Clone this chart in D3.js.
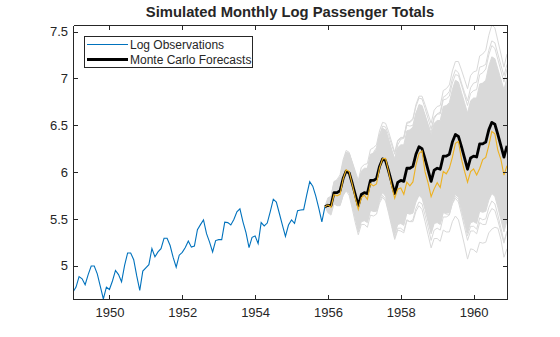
<!DOCTYPE html>
<html>
<head>
<meta charset="utf-8">
<title>Simulated Monthly Log Passenger Totals</title>
<script src="https://d3js.org/d3.v7.min.js"></script>
<style>
body { margin: 0; background: white; }
text { font-family: "Liberation Sans", Arial, sans-serif; fill: #262626; }
.axis path, .axis line { stroke: #262626; shape-rendering: crispEdges; }
.axis text { font-size: 13px; }
</style>
</head>
<body>
<svg id="chart" width="560" height="337"></svg>
<script>
// log passenger totals, Jan 1949 - Dec 1955 (observed)
var obsStart = 1949;
var logObs = [
  4.718, 4.771, 4.883, 4.860, 4.796, 4.905, 4.997, 4.997, 4.913, 4.779, 4.644, 4.771,
  4.745, 4.836, 4.949, 4.905, 4.828, 5.004, 5.136, 5.136, 5.063, 4.890, 4.736, 4.942,
  4.977, 5.011, 5.182, 5.094, 5.147, 5.182, 5.293, 5.293, 5.215, 5.088, 4.984, 5.112,
  5.142, 5.193, 5.263, 5.198, 5.209, 5.384, 5.438, 5.489, 5.342, 5.252, 5.147, 5.268,
  5.278, 5.278, 5.464, 5.460, 5.434, 5.493, 5.576, 5.606, 5.468, 5.352, 5.193, 5.303,
  5.318, 5.236, 5.460, 5.425, 5.455, 5.576, 5.710, 5.680, 5.557, 5.434, 5.313, 5.434,
  5.489, 5.451, 5.587, 5.595, 5.598, 5.753, 5.897, 5.849, 5.743, 5.613, 5.468, 5.628
];

// forecast horizon, Dec 1955 - Dec 1960 (first point = last observation)
var fcStart = 1955 + 11 / 12;

// Monte Carlo forecast mean (black)
var mcMean = [5.63,
  5.645, 5.64, 5.78, 5.78, 5.80, 5.93, 6.01, 5.99, 5.88, 5.76, 5.64, 5.76,
  5.78, 5.77, 5.91, 5.91, 5.93, 6.06, 6.14, 6.12, 6.01, 5.89, 5.77, 5.89,
  5.91, 5.90, 6.04, 6.04, 6.06, 6.19, 6.27, 6.25, 6.14, 6.02, 5.90, 6.02,
  6.04, 6.03, 6.17, 6.17, 6.19, 6.32, 6.40, 6.38, 6.27, 6.15, 6.03, 6.15,
  6.17, 6.16, 6.30, 6.30, 6.32, 6.45, 6.53, 6.51, 6.40, 6.28, 6.16, 6.28
];

// held-out log observations (orange)
var logHoldout = [5.628,
  5.649, 5.624, 5.759, 5.746, 5.762, 5.924, 6.023, 6.004, 5.872, 5.724, 5.602, 5.724,
  5.753, 5.707, 5.875, 5.852, 5.872, 6.045, 6.142, 6.146, 6.001, 5.849, 5.720, 5.817,
  5.829, 5.762, 5.892, 5.852, 5.894, 6.075, 6.196, 6.225, 6.001, 5.883, 5.737, 5.820,
  5.886, 5.835, 6.006, 5.981, 6.040, 6.157, 6.306, 6.326, 6.138, 6.009, 5.892, 6.004,
  6.033, 5.969, 6.038, 6.133, 6.157, 6.282, 6.433, 6.407, 6.230, 6.133, 5.966, 6.068
];

// dense part of the simulated paths (upper / lower edge)
var simUpper = [5.63,
  5.725, 5.74, 5.90, 5.91, 5.95, 6.10, 6.21, 6.20, 6.10, 5.99, 5.88, 6.01,
  6.04, 6.04, 6.19, 6.20, 6.23, 6.37, 6.46, 6.45, 6.35, 6.24, 6.13, 6.26,
  6.29, 6.29, 6.44, 6.45, 6.48, 6.62, 6.72, 6.71, 6.61, 6.50, 6.39, 6.52,
  6.55, 6.55, 6.70, 6.71, 6.74, 6.88, 6.98, 6.96, 6.85, 6.74, 6.63, 6.76,
  6.79, 6.79, 6.94, 6.95, 6.98, 7.13, 7.23, 7.21, 7.10, 6.99, 6.88, 7.01
];
var simLower = [5.63,
  5.565, 5.54, 5.66, 5.64, 5.64, 5.75, 5.81, 5.77, 5.64, 5.50, 5.36, 5.47,
  5.48, 5.46, 5.59, 5.58, 5.59, 5.71, 5.78, 5.74, 5.61, 5.47, 5.33, 5.44,
  5.45, 5.43, 5.56, 5.55, 5.56, 5.68, 5.75, 5.72, 5.60, 5.47, 5.34, 5.45,
  5.46, 5.44, 5.57, 5.56, 5.57, 5.69, 5.76, 5.73, 5.61, 5.48, 5.35, 5.46,
  5.47, 5.45, 5.58, 5.57, 5.58, 5.70, 5.77, 5.74, 5.62, 5.49, 5.36, 5.48
];

// a few stray simulated paths outside the dense band
var simHigh1 = [5.63,
  5.665, 5.68, 5.83, 5.85, 5.89, 6.04, 6.14, 6.13, 6.04, 5.94, 5.84, 5.98,
  6.01, 6.02, 6.18, 6.20, 6.24, 6.39, 6.49, 6.48, 6.39, 6.29, 6.19, 6.33,
  6.36, 6.37, 6.53, 6.54, 6.57, 6.72, 6.81, 6.81, 6.72, 6.62, 6.52, 6.66,
  6.70, 6.71, 6.87, 6.89, 6.93, 7.08, 7.18, 7.18, 7.09, 6.99, 6.89, 7.03,
  7.07, 7.08, 7.24, 7.26, 7.30, 7.46, 7.57, 7.54, 7.40, 7.26, 7.12, 7.26
];
var simHigh2 = [5.63,
  5.685, 5.71, 5.87, 5.90, 5.94, 6.10, 6.20, 6.20, 6.11, 6.01, 5.91, 6.05,
  6.08, 6.09, 6.24, 6.26, 6.29, 6.44, 6.53, 6.52, 6.43, 6.32, 6.21, 6.34,
  6.37, 6.37, 6.52, 6.53, 6.56, 6.70, 6.79, 6.78, 6.68, 6.57, 6.46, 6.59,
  6.62, 6.62, 6.77, 6.78, 6.81, 6.95, 7.04, 7.03, 6.93, 6.82, 6.71, 6.84,
  6.87, 6.88, 7.04, 7.06, 7.10, 7.25, 7.35, 7.32, 7.20, 7.08, 6.96, 7.10
];
var simHigh3 = [5.63,
  5.70, 5.73, 5.89, 5.92, 5.97, 6.13, 6.23, 6.21, 6.09, 5.97, 5.86, 5.99,
  6.00, 5.99, 6.16, 6.21, 6.26, 6.40, 6.47, 6.44, 6.33, 6.23, 6.14, 6.29,
  6.35, 6.36, 6.50, 6.49, 6.50, 6.63, 6.70, 6.69, 6.60, 6.51, 6.42, 6.57,
  6.62, 6.64, 6.80, 6.82, 6.86, 7.00, 7.09, 7.06, 6.95, 6.85, 6.76, 6.90,
  6.95, 6.96, 7.12, 7.13, 7.15, 7.30, 7.40, 7.38, 7.26, 7.14, 7.03, 7.15
];
var simLow1 = [5.63,
  5.615, 5.59, 5.71, 5.69, 5.69, 5.80, 5.86, 5.82, 5.69, 5.55, 5.41, 5.51,
  5.51, 5.48, 5.60, 5.58, 5.58, 5.69, 5.75, 5.71, 5.58, 5.44, 5.30, 5.40,
  5.40, 5.37, 5.49, 5.47, 5.47, 5.58, 5.64, 5.60, 5.47, 5.33, 5.19, 5.29,
  5.29, 5.26, 5.38, 5.36, 5.36, 5.47, 5.53, 5.49, 5.36, 5.22, 5.07, 5.18,
  5.17, 5.14, 5.25, 5.24, 5.25, 5.35, 5.39, 5.41, 5.40, 5.28, 5.09, 5.18
];
var simLow2 = [5.63,
  5.625, 5.60, 5.73, 5.71, 5.72, 5.83, 5.89, 5.86, 5.73, 5.59, 5.45, 5.56,
  5.56, 5.53, 5.65, 5.63, 5.63, 5.74, 5.80, 5.76, 5.63, 5.49, 5.35, 5.47,
  5.49, 5.47, 5.60, 5.59, 5.60, 5.72, 5.79, 5.76, 5.64, 5.50, 5.36, 5.47,
  5.48, 5.45, 5.57, 5.55, 5.55, 5.66, 5.72, 5.68, 5.55, 5.41, 5.27, 5.37,
  5.37, 5.34, 5.46, 5.44, 5.44, 5.55, 5.61, 5.59, 5.48, 5.36, 5.24, 5.36
];
var simLow3 = [5.63,
  5.59, 5.57, 5.69, 5.66, 5.65, 5.75, 5.80, 5.75, 5.61, 5.46, 5.33, 5.44,
  5.44, 5.41, 5.54, 5.53, 5.55, 5.67, 5.73, 5.69, 5.56, 5.42, 5.28, 5.38,
  5.37, 5.35, 5.48, 5.47, 5.49, 5.61, 5.68, 5.66, 5.54, 5.41, 5.27, 5.38,
  5.40, 5.38, 5.52, 5.52, 5.54, 5.67, 5.74, 5.71, 5.59, 5.46, 5.32, 5.42,
  5.42, 5.39, 5.51, 5.49, 5.50, 5.62, 5.69, 5.66, 5.54, 5.40, 5.26, 5.37
];

var xTicks = [1950, 1952, 1954, 1956, 1958, 1960];
var yTicks = [5, 5.5, 6, 6.5, 7, 7.5];

const mLeft = 73, mRight = 507, mTop = 25, mBottom = 299;
const tickLen = 4.5;

var svg = d3.select("#chart");

var x = d3.scaleLinear().domain([1949, 1960 + 11 / 12]).range([mLeft, mRight]);
var y = d3.scaleLinear().domain([4.644, 7.57]).range([mBottom, mTop]);

function series(start, vals) {
  return vals.map(function(v, i) { return { t: start + i / 12, v: v }; });
}

svg.append("clipPath").attr("id", "clip")
  .append("rect")
  .attr("x", mLeft).attr("y", mTop)
  .attr("width", mRight - mLeft).attr("height", mBottom - mTop);

var plot = svg.append("g").attr("clip-path", "url(#clip)");

var line = d3.line().x(function(d) { return x(d.t); }).y(function(d) { return y(d.v); });

// gray simulation cloud
var band = series(fcStart, simUpper).map(function(d, i) {
  return { t: d.t, hi: d.v, lo: simLower[i] };
});
plot.append("path")
  .datum(band)
  .attr("fill", "#d9d9d9")
  .attr("stroke", "#d9d9d9")
  .attr("stroke-width", 1)
  .attr("d", d3.area()
    .x(function(d) { return x(d.t); })
    .y0(function(d) { return y(d.lo); })
    .y1(function(d) { return y(d.hi); }));

[simHigh1, simHigh2, simHigh3, simLow1, simLow2, simLow3].forEach(function(s) {
  plot.append("path")
    .datum(series(fcStart, s))
    .attr("fill", "none")
    .attr("stroke", "#d9d9d9")
    .attr("stroke-width", 1)
    .attr("d", line);
});

// observations
plot.append("path")
  .datum(series(obsStart, logObs))
  .attr("fill", "none")
  .attr("stroke", "#0072bd")
  .attr("stroke-width", 1.1)
  .attr("d", line);

// forecast mean
plot.append("path")
  .datum(series(fcStart, mcMean))
  .attr("fill", "none")
  .attr("stroke", "#000")
  .attr("stroke-width", 2.8)
  .attr("stroke-linejoin", "round")
  .attr("d", line);

// held-out data
plot.append("path")
  .datum(series(fcStart, logHoldout))
  .attr("fill", "none")
  .attr("stroke", "#edb120")
  .attr("stroke-width", 1.1)
  .attr("d", line);

// axes (ticks inside, box on)
svg.append("g").attr("class", "axis")
  .attr("transform", "translate(0," + mBottom + ")")
  .call(d3.axisBottom(x).tickValues(xTicks).tickFormat(d3.format("d"))
    .tickSizeInner(-tickLen).tickSizeOuter(0).tickPadding(9));
svg.append("g").attr("class", "axis")
  .attr("transform", "translate(0," + mTop + ")")
  .call(d3.axisTop(x).tickValues(xTicks).tickFormat("")
    .tickSizeInner(-tickLen).tickSizeOuter(0));
svg.append("g").attr("class", "axis")
  .attr("transform", "translate(" + mLeft + ",0)")
  .call(d3.axisLeft(y).tickValues(yTicks).tickFormat(function(d) { return d; })
    .tickSizeInner(-tickLen).tickSizeOuter(0).tickPadding(5));
svg.append("g").attr("class", "axis")
  .attr("transform", "translate(" + mRight + ",0)")
  .call(d3.axisRight(y).tickValues(yTicks).tickFormat("")
    .tickSizeInner(-tickLen).tickSizeOuter(0));
svg.selectAll(".axis text").attr("fill", "#262626");

// title
svg.append("text")
  .attr("x", (mLeft + mRight) / 2)
  .attr("y", 17)
  .attr("text-anchor", "middle")
  .style("font-size", "14.8px")
  .style("font-weight", "bold")
  .text("Simulated Monthly Log Passenger Totals");

// legend
var lg = svg.append("g");
lg.append("rect")
  .attr("x", 84.5).attr("y", 36.5)
  .attr("width", 168).attr("height", 31)
  .attr("fill", "white")
  .attr("stroke", "#262626")
  .attr("stroke-width", 1);
lg.append("line").attr("x1", 87).attr("x2", 128).attr("y1", 44.5).attr("y2", 44.5)
  .attr("stroke", "#0072bd").attr("stroke-width", 1.1);
lg.append("line").attr("x1", 87).attr("x2", 128).attr("y1", 59.5).attr("y2", 59.5)
  .attr("stroke", "#000").attr("stroke-width", 2.8);
lg.append("text").attr("x", 130).attr("y", 48.5).style("font-size", "12px").text("Log Observations");
lg.append("text").attr("x", 130).attr("y", 63.5).style("font-size", "12px").text("Monte Carlo Forecasts");
</script>
</body>
</html>
